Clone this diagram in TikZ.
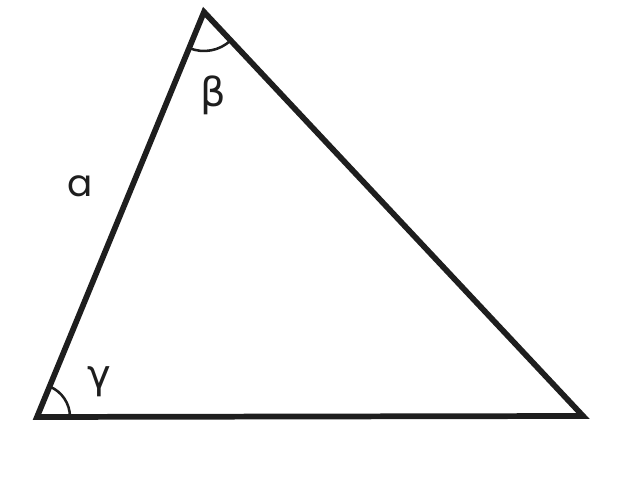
\documentclass[tikz,border=0pt]{standalone}
\usepackage{fontspec}
\newfontfamily\latinfont{Poppins}
\newfontfamily\greekfont{DejaVu Sans}
\definecolor{ink}{HTML}{1E1E1E}
\begin{document}
\begin{tikzpicture}[x=0.75pt,y=0.75pt,
    side/.style={line width=4.3pt,draw=ink},
    angle/.style={line width=1.9pt,draw=ink},
    lbl/.style={inner sep=0pt,text=ink,font=\greekfont\fontsize{30}{34}\selectfont}]
  \useasboundingbox (0,0) rectangle (624,484);
  \coordinate (A) at (37,67);
  \coordinate (B) at (204,472);
  \coordinate (C) at (583,68);
  \draw[side] (A) -- (B) -- (C) -- cycle;
  \draw[angle] (A) ++(0:33) arc (0:67.6:33);
  \draw[angle] (B) ++(247.6:39) arc (247.6:313.2:39);
  \node[lbl,font=\latinfont\fontsize{28}{32}\selectfont] (a) at (80,298) {a};
  \node[lbl] (beta) at (213,389) {β};
  \node[lbl] (gamma) at (99,102) {γ};
\end{tikzpicture}
\end{document}
